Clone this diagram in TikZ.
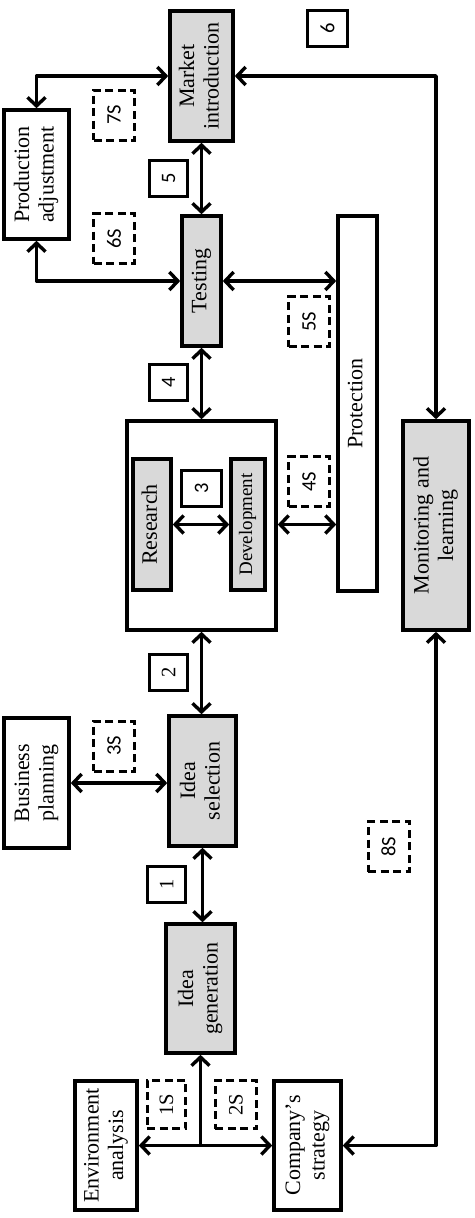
\documentclass[tikz,border=0pt]{standalone}
\usepackage{fontspec}
\setmainfont{Liberation Serif}
\newfontfamily\labfont{Carlito}
\usetikzlibrary{arrows.meta}
\newcommand{\vtext}[1]{\rotatebox{90}{\begin{tabular}{@{}c@{}}#1\end{tabular}}}
\begin{document}
\begin{tikzpicture}[x=1pt,y=-1pt,
  box/.style={draw, line width=3.6pt, rectangle, fill=white, inner sep=0pt, font=\fontsize{22}{24.5}\selectfont},
  grey/.style={box, fill=gray!30},
  num/.style={draw, line width=3.3pt, fill=white, inner sep=0pt, minimum width=37.5pt, minimum height=35.5pt, font=\labfont\fontsize{20.5}{20.5}\selectfont},
  dbox/.style={draw, line width=3pt, dash pattern=on 8pt off 4.5pt, inner sep=0pt, minimum width=41pt, minimum height=50pt, font=\labfont\fontsize{20.5}{20.5}\selectfont},
  sfont/.style={font=\fontsize{20.5}{20.5}\selectfont},
  link/.style={line width=3.4pt, line join=round},
  >={Straight Barb[length=8.5pt,width=18pt]}
]
\useasboundingbox (0,0) rectangle (474,1218);

% main boxes
\node[grey, minimum width=63pt, minimum height=130pt] (mi) at (201.5,76) {\vtext{Market\\introduction}};
\node[box, minimum width=65pt, minimum height=129pt] (pa) at (36.5,174.5) {\vtext{Production\\adjustment}};
\node[grey, minimum width=39pt, minimum height=130pt] (te) at (201.5,281) {\vtext{Testing}};
\node[box, minimum width=39pt, minimum height=375pt] (pr) at (357.5,403.5) {\vtext{Protection}};
\node[box, minimum width=149pt, minimum height=209pt] (rd) at (201.5,525.5) {};
\node[grey, minimum width=38pt, minimum height=131pt] (re) at (152,524.5) {\vtext{Research}};
\node[grey, minimum width=34pt, minimum height=131pt, font=\fontsize{19}{21}\selectfont] (de) at (248,524.5) {\vtext{Development}};
\node[grey, minimum width=66pt, minimum height=209pt] (ml) at (436,525.5) {\vtext{Monitoring and\\learning}};
\node[grey, minimum width=67pt, minimum height=130pt] (is) at (202.5,781) {\vtext{Idea\\selection}};
\node[box, minimum width=65pt, minimum height=130pt] (bp) at (36.5,783) {\vtext{Business\\planning}};
\node[grey, minimum width=69pt, minimum height=129pt] (ig) at (200.5,988.5) {\vtext{Idea\\generation}};
\node[box, minimum width=62pt, minimum height=129pt] (ea) at (106,1145.5) {\vtext{Environment\\analysis}};
\node[box, minimum width=67pt, minimum height=129pt] (cs) at (307.5,1145.5) {\vtext{Company’s\\strategy}};

% numbered boxes
\node[num, minimum width=39.5pt] (n6) at (327.5,28.5) {\rotatebox{90}{6}};
\node[num] (n5) at (168.5,178.5) {\rotatebox{90}{5}};
\node[num] (n4) at (168.5,382.5) {\rotatebox{90}{4}};
\node[num, minimum width=39.5pt] (n3) at (201.5,488.5) {\rotatebox{90}{3}};
\node[num, sfont] (n2) at (168.5,672.5) {\rotatebox{90}{2}};
\node[num, sfont] (n1) at (166.5,884.5) {\rotatebox{90}{1}};

% dashed boxes
\node[dbox] (s7) at (114,115) {\rotatebox{90}{7S}};
\node[dbox] (s6) at (114,238.5) {\rotatebox{90}{6S}};
\node[dbox] (s5) at (309,321.5) {\rotatebox{90}{5S}};
\node[dbox] (s4) at (309,481.5) {\rotatebox{90}{4S}};
\node[dbox] (s3) at (114,746) {\rotatebox{90}{3S}};
\node[dbox] (s8) at (388.5,846.5) {\rotatebox{90}{8S}};
\node[dbox, sfont, minimum width=38.5pt, minimum height=48.5pt] (s1) at (166.5,1104.5) {\rotatebox{90}{1S}};
\node[dbox, sfont, minimum width=41.5pt, minimum height=48.5pt] (s2) at (236,1104.5) {\rotatebox{90}{2S}};

% connectors
\draw[link,<->] (pa.north) |- (mi.west);
\draw[link,<->] (mi.south) -- (mi.south |- te.north);
\draw[link,<->] (pa.south) |- (te.west);
\draw[link,<->] (te.east) -- (te.east -| pr.west);
\draw[link,<->] (mi.east) -| (ml.north);
\draw[link,<->] (te.south) -- (te.south |- rd.north);
\draw[link,<->] (re.east) -- (re.east -| de.west);
\draw[link,<->] (rd.east |- de.east) -- (de.east -| pr.west);
\draw[link,<->] (rd.south) -- (rd.south |- is.north);
\draw[link,<->] (bp.east) -- (bp.east -| is.west);
\draw[link,<->] (is.south) -- (is.south |- ig.north);
\draw[link,<->] (ml.south) |- (cs.east);
\coordinate (j) at (ig.south |- ea.east);
\draw[link,->] (j) -- (ig.south);
\draw[link,<->] (ea.east) -- (cs.west);
\end{tikzpicture}
\end{document}
